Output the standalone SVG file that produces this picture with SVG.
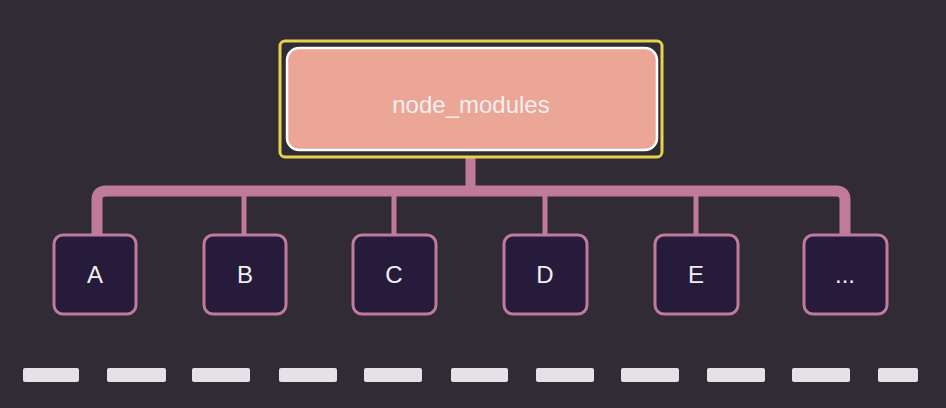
<svg xmlns="http://www.w3.org/2000/svg" width="946" height="408" viewBox="0 0 946 408">
<style>
.box{fill:#261b3b;stroke:#c07b9b;stroke-width:3}
.lbl{font-family:"Liberation Sans",Arial,sans-serif;font-size:24px;fill:#f2eef2;text-anchor:middle}
.dash{fill:#e4e2e6}
</style>
<rect width="946" height="408" fill="#302b34"/>
<g id="connectors" fill="none" stroke="#c07b9b">
<path d="M470.5 157 V191" stroke-width="10"/>
<path d="M97 235 V200 Q97 191 106 191 H836 Q845 191 845 200 V235" stroke-width="11"/>
<path d="M244 191 V235 M394 191 V235 M545 191 V235 M696 191 V235" stroke-width="5"/>
</g>
<g id="root">
<rect x="280" y="41" width="382" height="116" rx="5" fill="none" stroke="#e6d24e" stroke-width="3"/>
<rect x="287" y="48" width="370" height="102" rx="12" fill="#eba695" stroke="#ffffff" stroke-width="2.5"/>
<text x="471" y="113" class="lbl" font-size="36">node_modules</text>
</g>
<g id="A"><rect class="box" x="54" y="235" width="82" height="79" rx="9"/><text class="lbl" x="95" y="283">A</text></g>
<g id="B"><rect class="box" x="204" y="235" width="82" height="79" rx="9"/><text class="lbl" x="245" y="283">B</text></g>
<g id="C"><rect class="box" x="353" y="235" width="83" height="79" rx="9"/><text class="lbl" x="394" y="283">C</text></g>
<g id="D"><rect class="box" x="504" y="235" width="83" height="79" rx="9"/><text class="lbl" x="545" y="283">D</text></g>
<g id="E"><rect class="box" x="655" y="235" width="83" height="79" rx="9"/><text class="lbl" x="696" y="283">E</text></g>
<g id="more"><rect class="box" x="804" y="235" width="83" height="79" rx="9"/><text class="lbl" x="845" y="283">...</text></g>
<g id="dashes">
<rect class="dash" x="23" y="368" width="56" height="14" rx="2"/>
<rect class="dash" x="107" y="368" width="59" height="14" rx="2"/>
<rect class="dash" x="192" y="368" width="58" height="14" rx="2"/>
<rect class="dash" x="279" y="368" width="58" height="14" rx="2"/>
<rect class="dash" x="364" y="368" width="58" height="14" rx="2"/>
<rect class="dash" x="451" y="368" width="57" height="14" rx="2"/>
<rect class="dash" x="536" y="368" width="58" height="14" rx="2"/>
<rect class="dash" x="621" y="368" width="58" height="14" rx="2"/>
<rect class="dash" x="707" y="368" width="58" height="14" rx="2"/>
<rect class="dash" x="792" y="368" width="58" height="14" rx="2"/>
<rect class="dash" x="878" y="368" width="40" height="14" rx="2"/>
</g>
</svg>
